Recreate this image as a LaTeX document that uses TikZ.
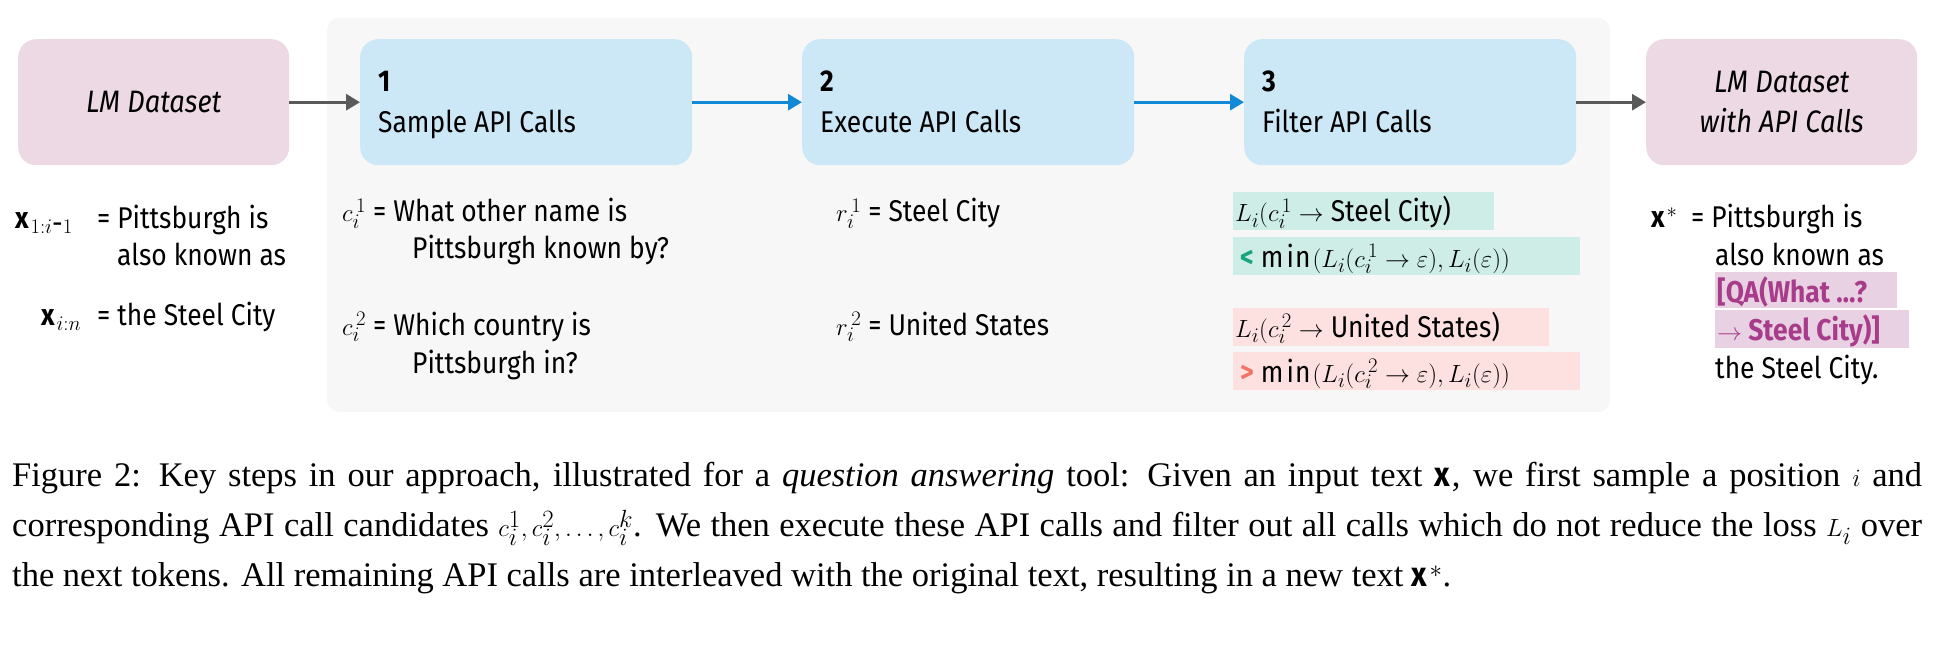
\documentclass[tikz,border=0pt]{standalone}
\usepackage{fontspec}
\setmainfont{Fira Sans}[FakeStretch=0.88]
\newfontfamily\capfont{Liberation Serif}
\usetikzlibrary{arrows.meta}
\definecolor{pinkbox}{HTML}{ECD9E4}
\definecolor{bluebox}{HTML}{CCE7F5}
\definecolor{panel}{HTML}{F7F7F7}
\definecolor{bluearr}{HTML}{1289D6}
\definecolor{grayarr}{HTML}{5A5A5A}
\definecolor{greenhl}{HTML}{CDEDE6}
\definecolor{greentx}{HTML}{1AA37F}
\definecolor{redhl}{HTML}{FDE0E0}
\definecolor{redtx}{HTML}{F07565}
\definecolor{purphl}{HTML}{E8D1E2}
\definecolor{purptx}{HTML}{A83C8A}
\tikzset{
  box/.style={rounded corners=18pt, draw=none, minimum width=332pt, minimum height=126pt, anchor=north west, inner sep=0pt},
  pbox/.style={box, fill=pinkbox, minimum width=271pt, align=center, font=\fontsize{31}{40}\selectfont\itshape},
  bbox/.style={box, fill=bluebox},
  txt/.style={anchor=base west, inner sep=0pt, font=\fontsize{30}{36}\selectfont},
  barr/.style={draw=bluearr, line width=3pt, -{Triangle[length=14pt,width=16pt]}},
  garr/.style={draw=grayarr, line width=3pt, -{Triangle[length=14pt,width=16pt]}},
  stepno/.style={txt, font=\fontsize{30}{36}\selectfont\bfseries},
}
\begin{document}
\begin{tikzpicture}[x=1pt,y=-1pt]
\useasboundingbox (0,0) rectangle (1950,655);
\fill[panel, rounded corners=12pt] (327,18) rectangle (1610,412);
% boxes
\node[pbox] (ds) at (18,39) {LM Dataset};
\node[bbox] (b1) at (360,39) {};
\node[bbox] (b2) at (802,39) {};
\node[bbox] (b3) at (1244,39) {};
\node[pbox] (dsa) at (1646,39) {LM Dataset\\with API Calls};
\node[stepno] (n1) at (378,92) {1};
\node[txt] (t1) at (378,133) {Sample API Calls};
\node[stepno] (n2) at (820,92) {2};
\node[txt] (t2) at (820,133) {Execute API Calls};
\node[stepno] (n3) at (1262,92) {3};
\node[txt] (t3) at (1262,133) {Filter API Calls};
\draw[garr] (ds.east) -- (b1.west);
\draw[barr] (b1.east) -- (b2.west);
\draw[barr] (b2.east) -- (b3.west);
\draw[garr] (b3.east) -- (dsa.west);
% left texts
\node[txt] (xa) at (15,228) {$\mathbf{x}_{1:i\mbox{-}1}$};
\node[txt] (xa2) at (97,228) {= Pittsburgh is};
\node[txt] (xa3) at (117,265) {also known as};
\node[txt] (xb) at (41,325) {$\mathbf{x}_{i:n}$};
\node[txt] (xb2) at (97,325) {= the Steel City};
% step 1 texts
\node[txt] (c1) at (342,222) {$c_i^{\,1}$ = What other name is};
\node[txt] (c1b) at (412,258) {Pittsburgh known by?};
\node[txt] (c2) at (342,335) {$c_i^{\,2}$ = Which country is};
\node[txt] (c2b) at (412,373) {Pittsburgh in?};
% step 2 texts
\node[txt] (r1) at (836,222) {$r_i^{\,1}$ = Steel City};
\node[txt] (r2) at (836,335) {$r_i^{\,2}$ = United States};
% step 3 highlights
\fill[greenhl] (1233,192) rectangle (1494,230);
\fill[greenhl] (1233,237) rectangle (1580,275);
\fill[redhl] (1233,308) rectangle (1549,346);
\fill[redhl] (1233,352) rectangle (1580,390);
\node[txt] (f1) at (1235,222) {$L_i(c_i^{\,1}\rightarrow$ Steel City)};
\node[txt] (f2) at (1240,267) {\textcolor{greentx}{\bfseries <} $\min(L_i(c_i^{\,1}\rightarrow \varepsilon), L_i(\varepsilon))$};
\node[txt] (f3) at (1235,337) {$L_i(c_i^{\,2}\rightarrow$ United States)};
\node[txt] (f4) at (1240,382) {\textcolor{redtx}{\bfseries >} $\min(L_i(c_i^{\,2}\rightarrow \varepsilon), L_i(\varepsilon))$};
% right texts
\fill[purphl] (1715,272) rectangle (1897,308);
\fill[purphl] (1715,310) rectangle (1909,348);
\node[txt] (xs) at (1651,227) {$\mathbf{x}^{*}$};
\node[txt] (xs2) at (1691,227) {= Pittsburgh is};
\node[txt] (xs3) at (1715,265) {also known as};
\node[txt, text=purptx, font=\fontsize{30}{36}\selectfont\bfseries] (xs4) at (1717,302) {[QA(What …?};
\node[txt, text=purptx, font=\fontsize{30}{36}\selectfont\bfseries] (xs5) at (1717,340) {$\rightarrow$ Steel City)]};
\node[txt] (xs6) at (1715,378) {the Steel City.};
% caption
\node[anchor=north west, inner sep=0pt, text width=1910pt, align=justify,
  font=\capfont\fontsize{34.5}{50}\selectfont] (cap) at (12,462)
{Figure 2: Key steps in our approach, illustrated for a \textit{question answering} tool: Given an input text $\mathbf{x}$, we first sample a position $i$ and corresponding API call candidates $c_i^1, c_i^2, \ldots, c_i^k$. We then execute these API calls and filter out all calls which do not reduce the loss $L_i$ over the next tokens. All remaining API calls are interleaved with the original text, resulting in a new text $\mathbf{x}^*$.};
\end{tikzpicture}
\end{document}
